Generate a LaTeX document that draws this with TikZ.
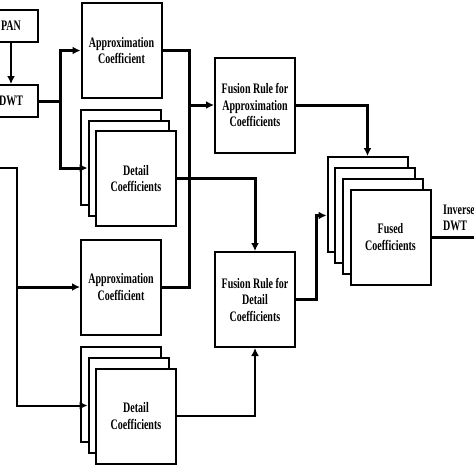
\documentclass[tikz,border=0pt]{standalone}
\usepackage{fontspec}
\setmainfont{Liberation Serif}[FakeStretch=0.69]
\usetikzlibrary{arrows.meta}
\tikzset{coeff/.style={draw,line width=2pt,fill=white,minimum width=80pt,minimum height=95pt,inner sep=0pt,align=center,font=\bfseries\fontsize{14.5}{16.5}\selectfont},
         srcbox/.style={draw,line width=2pt,fill=white,minimum width=53pt,minimum height=32pt,inner sep=0pt,font=\bfseries\fontsize{14.5}{16.5}\selectfont},
         link/.style={line width=3pt,-{Latex[length=8pt,width=8pt]}},
         thinlink/.style={line width=2pt,-{Latex[length=8pt,width=8pt]}},
         joint/.style={line width=3pt},
        }

\begin{document}
\begin{tikzpicture}[x=1pt,y=-1pt]
        \useasboundingbox(0,0)rectangle(474,474);
        \clip(0,0)rectangle(474,474);

        \node[srcbox](pan)at(11,26){PAN};
        \node[srcbox](dwt)at(11,101){DWT};

        \node[coeff](a1)at(121.5,50.5){Approximation\\Coefficient};
        \node[coeff](d1c)at(121,157.5){};
        \node[coeff](d1b)at(128.5,168){};
        \node[coeff](d1a)at(136,178.5){Detail\\Coefficients};

        \node[coeff](a2)at(121,287){Approximation\\Coefficient};
        \node[coeff](d2c)at(121,394.5){};
        \node[coeff](d2b)at(128.5,405.5){};
        \node[coeff](d2a)at(136,416){Detail\\Coefficients};

        \node[coeff](fa)at(255,105){Fusion Rule for\\Approximation\\Coefficients};
        \node[coeff](fb)at(255,299.5){Fusion Rule for\\Detail\\Coefficients};

        \node[coeff](f4)at(367.5,204.5){};
        \node[coeff](f3)at(375,215.5){};
        \node[coeff](f2)at(382.5,226){};
        \node[coeff](f1)at(390.5,237){Fused\\Coefficients};
        \node[anchor=west,align=left,inner sep=0pt,font=\bfseries\fontsize{14.5}{16.5}\selectfont](inv)at(443,218){Inverse\\DWT};

        \coordinate(ms)at(-5,168);
        \coordinate(msplit)at(17,287);
        \coordinate(amerge)at(188,105);
        \coordinate(out)at(474,239);

        \draw[thinlink](pan)--(dwt);
        \draw[joint](dwt.east)--++(22,0)coordinate(split);
        \draw[link](split)|-(a1.west);
        \draw[link](split)|-(d1b.west);

        \draw[thinlink](ms)--++(22,0)|-(d2b.west);
        \draw[link](msplit)--(a2.west);

        \draw[joint](a1.east)--++(26.5,0)|-(a2.east);
        \draw[link](amerge)--(fa.west);
        \draw[link](d1a.east)-|(fb.north);
        \draw[thinlink](d2a.east)-|(fb.south);

        \draw[link](fa.east)-|(f4.north);
        \draw[link](fb.east)--++(20,0)|-(f4.195);
        \draw[joint](f1.east)--(f1.east-|out);
\end{tikzpicture}
\end{document}
